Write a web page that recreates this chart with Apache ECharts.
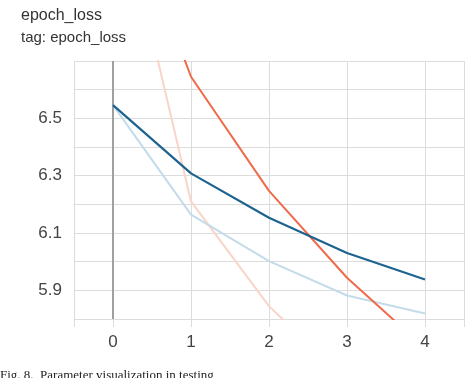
<!DOCTYPE html>
<html><head><meta charset="utf-8">
<script src="https://cdn.jsdelivr.net/npm/echarts@6/dist/echarts.min.js"></script>
<style>html,body{margin:0;padding:0;background:#fff}#c{width:474px;height:378px}</style>
</head><body><div id="c"></div>
<script>
const epochs = [0, 1, 2, 3, 4];
const trainRaw = [6.546, 6.164, 6.002, 5.882, 5.819];
const trainSmoothed = [6.546, 6.308, 6.153, 6.030, 5.938];
const valRaw = [7.37, 6.21, 5.845, 5.585, 5.38];
const valSmoothed = [7.37, 6.645, 6.247, 5.944, 5.698];
const xTickLabels = [0, 1, 2, 3, 4];
const yTickLabels = [5.9, 6.1, 6.3, 6.5];

const pairs = (ys) => epochs.map((x, i) => [x, ys[i]]);
const chart = echarts.init(document.getElementById('c'), null, {renderer: 'canvas'});
const gridColor = '#dcdcdc';
chart.setOption({
  animation: false,
  title: [
    {text: 'epoch_loss', left: 16, top: 3, textStyle: {fontFamily: 'Liberation Sans', fontSize: 16, fontWeight: 'normal', color: '#333'}},
    {text: 'tag: epoch_loss', left: 16, top: 25, textStyle: {fontFamily: 'Liberation Sans', fontSize: 15, fontWeight: 'normal', color: '#333'}}
  ],
  graphic: [{
    type: 'text', left: 0, top: 369,
    style: {text: 'Fig. 8.  Parameter visualization in testing', font: '13px "Liberation Serif"', fill: '#222'}
  }],
  grid: {left: 74, right: 10, top: 61, bottom: 59, containLabel: false},
  xAxis: {
    type: 'value', min: -0.5, max: 4.5,
    axisLine: {show: false},
    axisTick: {show: true, length: 8, lineStyle: {color: gridColor}, customValues: [-0.5, 0, 1, 2, 3, 4, 4.5]},
    splitLine: {show: true, lineStyle: {color: gridColor, width: 1}},
    axisLabel: {customValues: xTickLabels, color: '#444', fontFamily: 'Liberation Sans', fontSize: 17, margin: 15}
  },
  yAxis: {
    type: 'value', min: 5.8, max: 6.7, interval: 0.1,
    axisLine: {show: false},
    axisTick: {show: true, length: 8, lineStyle: {color: gridColor}},
    splitLine: {show: true, lineStyle: {color: gridColor, width: 1}},
    axisLabel: {
      color: '#444', fontFamily: 'Liberation Sans', fontSize: 17, margin: 12,
      formatter: (v) => {
        const r = Math.round(v * 10) / 10;
        return yTickLabels.some(t => Math.abs(t - r) < 1e-6) ? r.toFixed(1) : '';
      }
    }
  },
  series: [
    {type: 'line', data: pairs(valRaw), symbol: 'none', clip: true, lineStyle: {color: '#f9d4c8', width: 2}, z: 2,
     markLine: {silent: true, symbol: 'none', label: {show: false}, lineStyle: {color: '#a0a0a0', width: 2, type: 'solid'}, data: [{xAxis: 0}]}},
    {type: 'line', data: pairs(trainRaw), symbol: 'none', clip: true, lineStyle: {color: '#c4dbe9', width: 2}, z: 3},
    {type: 'line', data: pairs(valSmoothed), symbol: 'none', clip: true, lineStyle: {color: '#ef6a4a', width: 2}, z: 4},
    {type: 'line', data: pairs(trainSmoothed), symbol: 'none', clip: true, lineStyle: {color: '#1c6390', width: 2.2}, z: 5}
  ]
});
</script></body></html>
